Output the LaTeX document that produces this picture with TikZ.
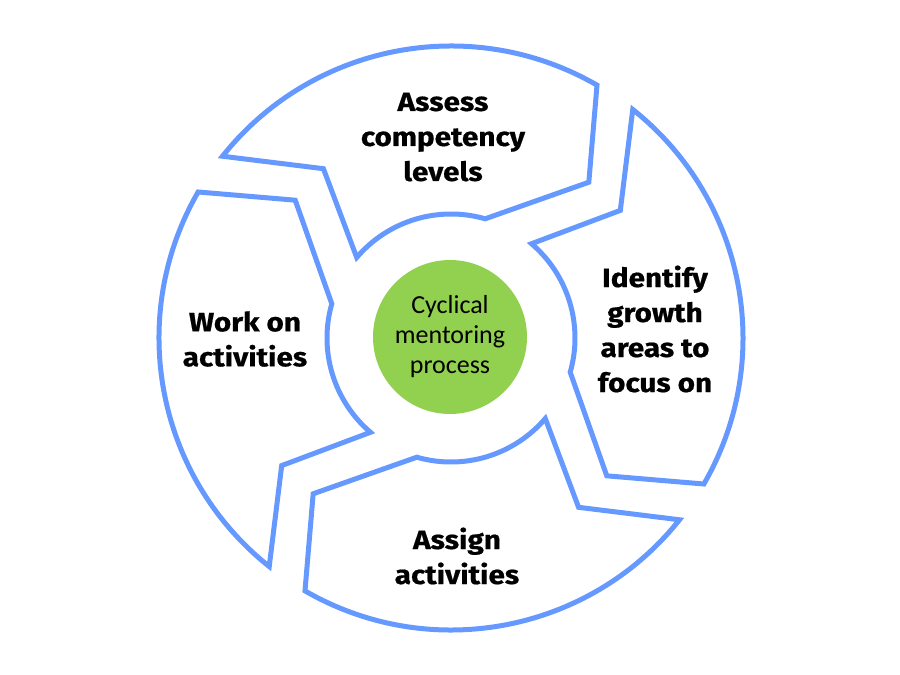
\documentclass[tikz,border=0pt]{standalone}
\usepackage{fontspec}
\setmainfont{Carlito}
\newfontfamily\lblfont{Fira Sans}[FakeStretch=1.12, FakeBold=0.6]
\definecolor{ringblue}{HTML}{6699FF}
\definecolor{hubgreen}{HTML}{92D050}
\begin{document}
\begin{tikzpicture}[x=1pt,y=1pt,
  seg/.style={draw=ringblue, line width=5pt, fill=white, line join=miter},
  lbl/.style={align=center, font=\lblfont\bfseries\fontsize{26.5}{35}\selectfont, text=black, inner sep=0pt},
  hub/.style={circle, fill=hubgreen, minimum size=154pt, inner sep=0pt, align=center,
              font=\fontsize{26}{30}\selectfont, text=black}]
\useasboundingbox (-451,-337) rectangle (449,338);
\foreach \p in {0,-90,-180,-270}{
  \draw[seg] (141.5+\p:292) arc[start angle=141.5+\p, end angle=60+\p, radius=292]
    -- (48.5+\p:208) -- (74+\p:124)
    arc[start angle=74+\p, end angle=139.5+\p, radius=124]
    -- (127+\p:212) -- cycle;
}
\node[hub] (hub) at (-1,1) {Cyclical\\mentoring\\process};
\node[lbl] (assess) at (-8,201) {Assess\\competency\\levels};
\node[lbl] (identify) at (204,9) {Identify\\growth\\areas to\\focus on};
\node[lbl] (assign) at (6,-218) {Assign\\activities};
\node[lbl] (work) at (-206,-1) {Work on\\activities};
\end{tikzpicture}
\end{document}
